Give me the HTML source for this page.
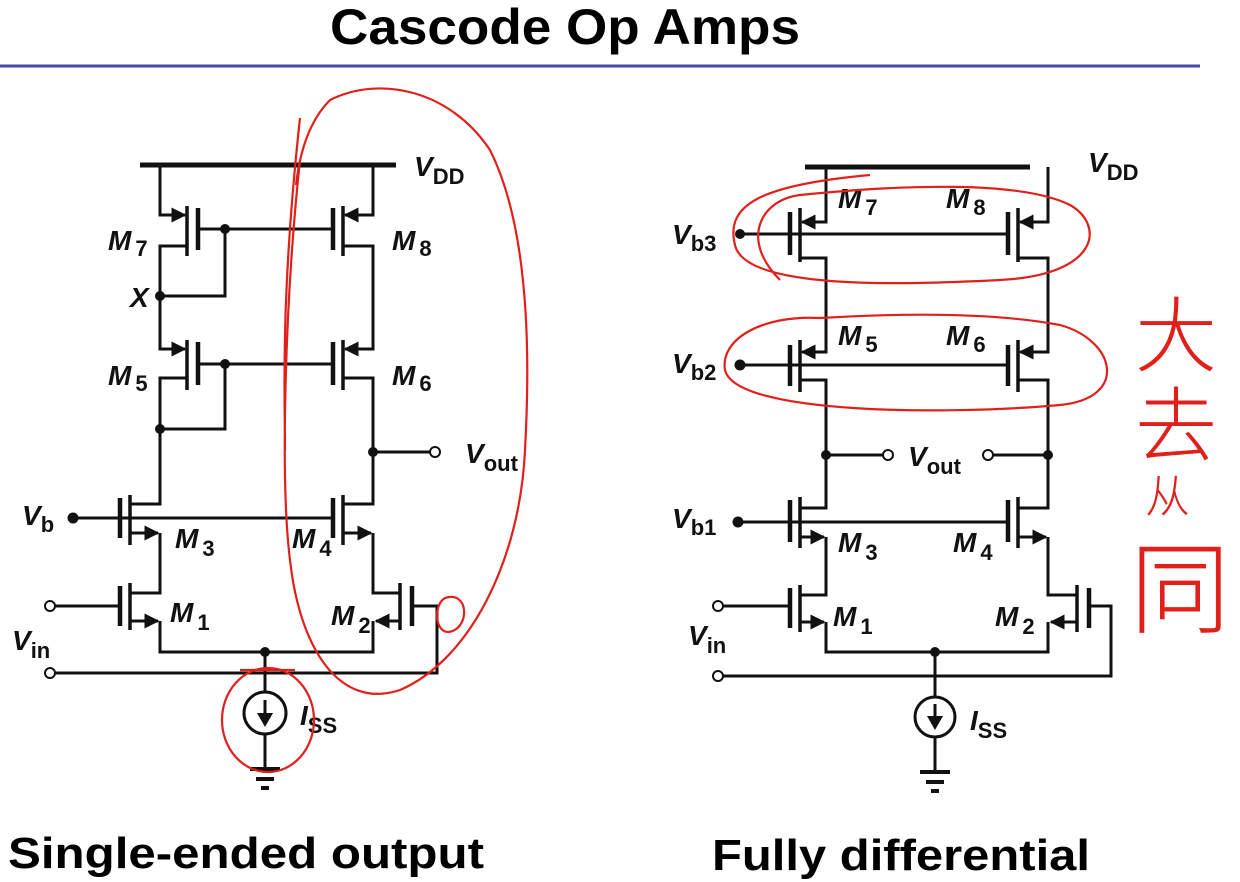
<!DOCTYPE html>
<html><head><meta charset="utf-8"><style>
html,body{margin:0;padding:0;background:#fff;}
svg{display:block;}
.w{stroke:#111;stroke-width:3;fill:none;}
.p{stroke:#111;stroke-width:4.5;fill:none;}
.ch{stroke:#111;stroke-width:3.5;fill:none;}
.r{stroke:#e0201a;stroke-width:2.2;fill:none;}
.L{font-family:"Liberation Sans",sans-serif;font-weight:bold;font-style:italic;font-size:28px;fill:#111;}
.s{font-style:normal;font-size:22px;}
</style></head><body>
<svg width="1240" height="882" viewBox="0 0 1240 882" xmlns="http://www.w3.org/2000/svg">
<defs>
<marker id="ar" viewBox="0 0 10 10" refX="9" refY="5" markerWidth="5" markerHeight="5" orient="auto" markerUnits="strokeWidth"><path d="M0,0 L10,5 L0,10 z" fill="#111"/></marker>
</defs>
<text x="565" y="44" text-anchor="middle" font-family="Liberation Sans, sans-serif" font-weight="bold" font-size="50" fill="#000" textLength="470" lengthAdjust="spacingAndGlyphs">Cascode Op Amps</text>
<line x1="0" y1="66" x2="1200" y2="66" stroke="#4a4aa8" stroke-width="3"/>

<!-- LEFT CIRCUIT -->
<line x1="140" y1="165" x2="396" y2="165" stroke="#111" stroke-width="5"/>
<text class="L" x="414" y="176">V<tspan class="s" dy="8">DD</tspan></text>
<path class="w" d="M160,165 V215 H185" marker-end="url(#ar)"/>
<line class="ch" x1="187" y1="206" x2="187" y2="256"/>
<line class="p" x1="198" y1="208" x2="198" y2="250"/>
<path class="w" d="M187,246 H160 V349 H185" marker-end="url(#ar)"/>
<path class="w" d="M198,229 H333 M225,229 V296 H160"/>
<circle cx="225" cy="229" r="5" fill="#111"/><circle cx="160" cy="296" r="5" fill="#111"/>
<line class="ch" x1="187" y1="340" x2="187" y2="390"/>
<line class="p" x1="198" y1="342" x2="198" y2="385"/>
<path class="w" d="M187,378 H160 V504 H130 M198,364 H333 M225,364 V429 H160"/>
<circle cx="225" cy="364" r="5" fill="#111"/><circle cx="160" cy="429" r="5" fill="#111"/>
<path class="w" d="M373,165 V215 H345" marker-end="url(#ar)"/>
<line class="p" x1="333" y1="208" x2="333" y2="250"/>
<line class="ch" x1="343" y1="206" x2="343" y2="256"/>
<path class="w" d="M343,246 H373 V349 H345" marker-end="url(#ar)"/>
<line class="p" x1="333" y1="342" x2="333" y2="385"/>
<line class="ch" x1="343" y1="340" x2="343" y2="390"/>
<path class="w" d="M343,378 H373 V504 H343 M373,452 H430"/>
<circle cx="373" cy="452" r="5" fill="#111"/><circle cx="435" cy="452" r="5" fill="#fff" stroke="#111" stroke-width="2"/>
<text class="L" x="465" y="463">V<tspan class="s" dy="8">out</tspan></text>
<line class="p" x1="120" y1="498" x2="120" y2="538"/>
<line class="ch" x1="130" y1="495" x2="130" y2="545"/>
<path class="w" d="M130,533 H158" marker-end="url(#ar)"/>
<path class="w" d="M73,518 H333"/><circle cx="73" cy="518" r="5.5" fill="#111"/>
<line class="p" x1="333" y1="498" x2="333" y2="538"/>
<line class="ch" x1="343" y1="495" x2="343" y2="545"/>
<path class="w" d="M343,533 H371" marker-end="url(#ar)"/>
<path class="w" d="M160,533 V593 H130"/>
<line class="p" x1="120" y1="586" x2="120" y2="626"/>
<line class="ch" x1="130" y1="583" x2="130" y2="630"/>
<path class="w" d="M130,621 H158" marker-end="url(#ar)"/>
<path class="w" d="M160,621 V652 H373 V621"/>
<path class="w" d="M55,606 H120"/><circle cx="50" cy="606" r="5" fill="#fff" stroke="#111" stroke-width="2"/>
<path class="w" d="M373,533 V593 H400"/>
<line class="ch" x1="400" y1="583" x2="400" y2="630"/>
<line class="p" x1="412" y1="586" x2="412" y2="626"/>
<path class="w" d="M400,621 H376" marker-end="url(#ar)"/>
<path class="w" d="M412,606 H437 V673 H55"/><circle cx="50" cy="673" r="5" fill="#fff" stroke="#111" stroke-width="2"/>
<circle cx="265" cy="652" r="5" fill="#111"/>
<path class="w" d="M265,652 V692 M265,734 V769"/>
<circle cx="265" cy="713" r="21" class="w"/>
<path class="w" d="M265,700 V715"/><path d="M257,713 L273,713 L265,727 z" fill="#111"/>
<path stroke="#111" stroke-width="4" d="M250,769 H280 M256,779 H274 M261,788 H269"/>
<text class="L" x="300" y="725">I<tspan class="s" dy="8">SS</tspan></text>
<text class="L" x="108" y="250">M<tspan class="s" dx="4" dy="6">7</tspan></text>
<text class="L" x="392" y="250">M<tspan class="s" dx="4" dy="6">8</tspan></text>
<text class="L" x="108" y="385">M<tspan class="s" dx="4" dy="6">5</tspan></text>
<text class="L" x="392" y="385">M<tspan class="s" dx="4" dy="6">6</tspan></text>
<text class="L" x="175" y="548">M<tspan class="s" dx="4" dy="8">3</tspan></text>
<text class="L" x="292" y="548">M<tspan class="s" dx="4" dy="8">4</tspan></text>
<text class="L" x="170" y="622">M<tspan class="s" dx="4" dy="8">1</tspan></text>
<text class="L" x="331" y="625">M<tspan class="s" dx="4" dy="8">2</tspan></text>
<text class="L" x="130" y="307">X</text>
<text class="L" x="22" y="525">V<tspan class="s" dy="7">b</tspan></text>
<text class="L" x="12" y="650">V<tspan class="s" dy="8">in</tspan></text>

<!-- RIGHT CIRCUIT -->
<line x1="805" y1="167" x2="1030" y2="167" stroke="#111" stroke-width="5"/>
<text class="L" x="1088" y="172">V<tspan class="s" dy="8">DD</tspan></text>
<path class="w" d="M826,167 V222 H802" marker-end="url(#ar)"/>
<line class="p" x1="790" y1="212" x2="790" y2="255"/>
<line class="ch" x1="800" y1="208" x2="800" y2="262"/>
<path class="w" d="M800,258 H826 V352 H802" marker-end="url(#ar)"/>
<path class="w" d="M740,234 H1008"/><circle cx="740" cy="234" r="5" fill="#111"/>
<path class="w" d="M1048,167 V222 H1020" marker-end="url(#ar)"/>
<line class="p" x1="1008" y1="212" x2="1008" y2="255"/>
<line class="ch" x1="1018" y1="208" x2="1018" y2="262"/>
<path class="w" d="M1018,258 H1048 V352 H1020" marker-end="url(#ar)"/>
<line class="p" x1="790" y1="345" x2="790" y2="386"/>
<line class="ch" x1="800" y1="340" x2="800" y2="392"/>
<line class="p" x1="1008" y1="345" x2="1008" y2="386"/>
<line class="ch" x1="1018" y1="340" x2="1018" y2="392"/>
<path class="w" d="M740,365 H1008"/><circle cx="740" cy="365" r="5.5" fill="#111"/>
<path class="w" d="M800,380 H826 V508 H800 M1018,380 H1048 V508 H1018"/>
<path class="w" d="M826,455 H883 M993,455 H1048"/>
<circle cx="826" cy="455" r="5" fill="#111"/><circle cx="1048" cy="455" r="5" fill="#111"/>
<circle cx="888" cy="455" r="5" fill="#fff" stroke="#111" stroke-width="2"/>
<circle cx="988" cy="455" r="5" fill="#fff" stroke="#111" stroke-width="2"/>
<text class="L" x="908" y="466">V<tspan class="s" dy="8">out</tspan></text>
<line class="p" x1="790" y1="500" x2="790" y2="542"/>
<line class="ch" x1="800" y1="497" x2="800" y2="548"/>
<line class="p" x1="1008" y1="500" x2="1008" y2="542"/>
<line class="ch" x1="1018" y1="497" x2="1018" y2="548"/>
<path class="w" d="M738,522 H1008"/><circle cx="738" cy="522" r="5.5" fill="#111"/>
<path class="w" d="M800,537 H824" marker-end="url(#ar)"/>
<path class="w" d="M1018,537 H1046" marker-end="url(#ar)"/>
<path class="w" d="M826,537 V595 H800 M1048,537 V595 H1077"/>
<line class="p" x1="790" y1="588" x2="790" y2="628"/>
<line class="ch" x1="800" y1="585" x2="800" y2="632"/>
<path class="w" d="M800,622 H824" marker-end="url(#ar)"/>
<line class="ch" x1="1077" y1="585" x2="1077" y2="632"/>
<line class="p" x1="1089" y1="588" x2="1089" y2="628"/>
<path class="w" d="M1077,622 H1051" marker-end="url(#ar)"/>
<path class="w" d="M826,622 V652 H1048 V622"/>
<path class="w" d="M723,606 H790"/><circle cx="718" cy="606" r="5" fill="#fff" stroke="#111" stroke-width="2"/>
<path class="w" d="M1089,606 H1111 V676 H723"/><circle cx="718" cy="676" r="5" fill="#fff" stroke="#111" stroke-width="2"/>
<circle cx="935" cy="652" r="5" fill="#111"/>
<path class="w" d="M935,652 V697 M935,737 V772"/>
<circle cx="935" cy="717" r="20" class="w"/>
<path class="w" d="M935,704 V718"/><path d="M927,716 L943,716 L935,730 z" fill="#111"/>
<path stroke="#111" stroke-width="4" d="M920,772 H950 M926,782 H944 M931,791 H939"/>
<text class="L" x="970" y="730">I<tspan class="s" dy="8">SS</tspan></text>
<text class="L" x="838" y="208">M<tspan class="s" dx="4" dy="7">7</tspan></text>
<text class="L" x="946" y="208">M<tspan class="s" dx="4" dy="7">8</tspan></text>
<text class="L" x="838" y="345">M<tspan class="s" dx="4" dy="7">5</tspan></text>
<text class="L" x="946" y="345">M<tspan class="s" dx="4" dy="7">6</tspan></text>
<text class="L" x="838" y="552">M<tspan class="s" dx="4" dy="8">3</tspan></text>
<text class="L" x="953" y="552">M<tspan class="s" dx="4" dy="8">4</tspan></text>
<text class="L" x="833" y="626">M<tspan class="s" dx="4" dy="8">1</tspan></text>
<text class="L" x="995" y="626">M<tspan class="s" dx="4" dy="8">2</tspan></text>
<text class="L" x="672" y="244">V<tspan class="s" dy="7">b3</tspan></text>
<text class="L" x="672" y="373">V<tspan class="s" dy="7">b2</tspan></text>
<text class="L" x="672" y="528">V<tspan class="s" dy="7">b1</tspan></text>
<text class="L" x="688" y="645">V<tspan class="s" dy="8">in</tspan></text>

<!-- red annotations -->
<path class="r" d="M300,118 C280,300 285,400 285,450 M296,185 C300,150 310,120 330,100 C380,75 450,90 490,150 C530,230 530,360 525,450 C520,560 470,660 400,690 C340,710 300,650 290,560 C280,480 285,300 300,160"/>
<ellipse class="r" cx="268" cy="720" rx="46" ry="52"/>
<path class="r" d="M240,670 H295" stroke-width="4"/>
<path class="r" d="M445,598 C470,590 470,630 448,632 C435,632 433,605 445,598"/>
<path class="r" d="M870,175 C760,185 725,205 735,245 C745,290 900,285 1000,280 C1100,275 1105,225 1070,205 C1020,180 900,185 800,195 C760,200 740,240 780,280"/>
<path class="r" d="M820,318 C760,315 720,340 725,370 C735,415 950,415 1060,405 C1130,398 1115,340 1060,325 C980,310 870,315 820,318"/>
<g font-family="Noto Sans CJK SC, sans-serif" font-size="82" font-weight="200" fill="#e0201a">
<text x="1135" y="365">大</text>
<text x="1135" y="455">去</text>
<text x="1145" y="512" font-size="45">从</text>
<text x="1130" y="625" font-size="100">同</text>
</g>

<text x="8" y="868" font-family="Liberation Sans, sans-serif" font-weight="bold" font-size="44" fill="#000" textLength="476" lengthAdjust="spacingAndGlyphs">Single-ended output</text>
<text x="712" y="870" font-family="Liberation Sans, sans-serif" font-weight="bold" font-size="44" fill="#000" textLength="378" lengthAdjust="spacingAndGlyphs">Fully differential</text>
</svg>
</body></html>
